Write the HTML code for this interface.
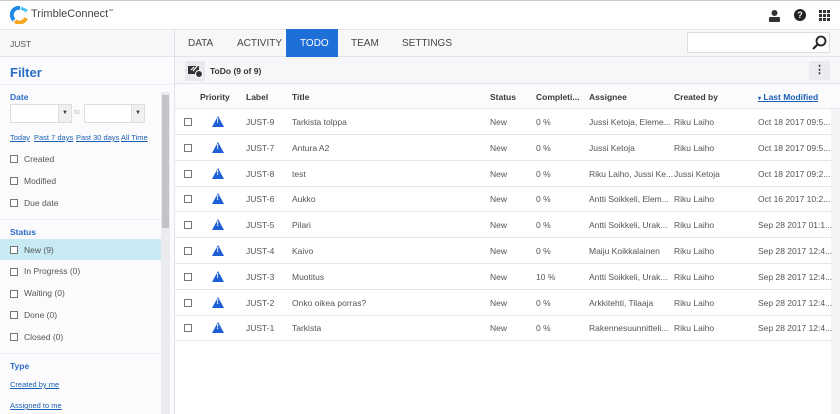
<!DOCTYPE html>
<html><head><style>
*{box-sizing:border-box;margin:0;padding:0}
body{width:840px;height:414px;overflow:hidden;background:#fff;font-family:"Liberation Sans",sans-serif;font-size:8.5px;color:#3a3a3a;position:relative}
.a{position:absolute;white-space:nowrap}
.cb{position:absolute;width:8px;height:8px;border:1px solid #777;background:#fff}
.lnk{color:#1a5fb4;text-decoration:underline}
.tri{position:absolute;width:0;height:0;border-left:6px solid transparent;border-right:6px solid transparent;border-bottom:11px solid #1f5fd6}
.tri:after{content:"!";position:absolute;left:-1.5px;top:2px;color:#fff;font-size:7px;font-weight:bold}
</style></head><body>
<div class="a" style="left:0;top:0;width:840px;height:1px;background:#ccc"></div>
<svg class="a" style="left:10px;top:6px" width="22" height="18" viewBox="0 0 22 18"><path d="M10 2 A7 7 0 0 0 4 14" stroke="#1e88e5" stroke-width="4" fill="none"/><path d="M5 15 A7 7 0 0 0 16 12" stroke="#f5a623" stroke-width="4" fill="none"/><path d="M11 2 L17 5" stroke="#4fc3f7" stroke-width="3"/></svg>
<div class="a" style="left:31px;top:8px;font-size:11px;color:#444">TrimbleConnect<sup style="font-size:5px">™</sup></div>
<svg class="a" style="left:768px;top:9px" width="13" height="13" viewBox="0 0 13 13"><circle cx="6.5" cy="4" r="3" fill="#333"/><rect x="1" y="8" width="11" height="5" rx="1" fill="#333"/></svg>
<div class="a" style="left:794px;top:9px;width:12px;height:12px;border-radius:6px;background:#222;color:#fff;font-size:9px;font-weight:bold;text-align:center;line-height:12px">?</div>
<svg class="a" style="left:819px;top:10px" width="11" height="11"><g fill="#333"><rect x="0" y="0" width="3" height="3"/><rect x="4" y="0" width="3" height="3"/><rect x="8" y="0" width="3" height="3"/><rect x="0" y="4" width="3" height="3"/><rect x="4" y="4" width="3" height="3"/><rect x="8" y="4" width="3" height="3"/><rect x="0" y="8" width="3" height="3"/><rect x="4" y="8" width="3" height="3"/><rect x="8" y="8" width="3" height="3"/></g></svg>
<div class="a" style="left:0;top:29px;width:840px;height:28px;background:#f7f7fa;border-top:1px solid #e4e4ea;border-bottom:1px solid #e4e4ea"></div>
<div class="a" style="left:10px;top:39px;color:#555">JUST</div>
<div class="a" style="left:174px;top:29px;width:1px;height:385px;background:#e2e2e8"></div>
<div class="a" style="left:188px;top:38px;font-size:10px;color:#444">DATA</div>
<div class="a" style="left:237px;top:38px;font-size:10px;color:#444">ACTIVITY</div>
<div class="a" style="left:286px;top:29px;width:52px;height:28px;background:#1f6fd8"></div>
<div class="a" style="left:300px;top:38px;font-size:10px;color:#fff">TODO</div>
<div class="a" style="left:351px;top:38px;font-size:10px;color:#444">TEAM</div>
<div class="a" style="left:402px;top:38px;font-size:10px;color:#444">SETTINGS</div>
<div class="a" style="left:687px;top:32px;width:143px;height:21px;background:#fff;border:1px solid #ddd"></div>
<svg class="a" style="left:812px;top:35px" width="15" height="15"><circle cx="9" cy="6" r="4.5" stroke="#222" stroke-width="1.8" fill="none"/><line x1="6" y1="9" x2="1" y2="14" stroke="#222" stroke-width="2"/></svg>
<div class="a" style="left:0;top:57px;width:174px;height:357px;background:#fbfbfd"></div>
<div class="a" style="left:0;top:84px;width:174px;height:1px;background:#ececf0"></div>
<div class="a" style="left:10px;top:65px;font-size:13px;font-weight:bold;color:#2a6cc6">Filter</div>
<div class="a" style="left:161px;top:92px;width:9px;height:322px;background:#ececf0"></div>
<div class="a" style="left:162px;top:95px;width:7px;height:133px;background:#c2c2c8"></div>
<div class="a" style="left:10px;top:92px;color:#2a6cc6;font-weight:bold">Date</div>
<div class="a" style="left:10px;top:104px;width:62px;height:19px;background:#fff;border:1px solid #ddd"></div>
<div class="a" style="left:58px;top:104px;width:14px;height:19px;background:#f0f0f2;border:1px solid #ddd;font-size:6px;text-align:center;line-height:17px">▼</div>
<div class="a" style="left:74px;top:109px;color:#bbb;font-size:7px">to</div>
<div class="a" style="left:84px;top:104px;width:61px;height:19px;background:#fff;border:1px solid #ddd"></div>
<div class="a" style="left:131px;top:104px;width:14px;height:19px;background:#f0f0f2;border:1px solid #ddd;font-size:6px;text-align:center;line-height:17px">▼</div>
<div class="a lnk" style="left:10px;top:133px;font-size:7.5px">Today</div>
<div class="a lnk" style="left:34px;top:133px;font-size:7.5px">Past 7 days</div>
<div class="a lnk" style="left:76px;top:133px;font-size:7.5px">Past 30 days</div>
<div class="a lnk" style="left:121px;top:133px;font-size:7.5px">All Time</div>
<div class="cb" style="left:10px;top:155px"></div><div class="a" style="left:24px;top:154px;color:#555">Created</div>
<div class="cb" style="left:10px;top:177px"></div><div class="a" style="left:24px;top:176px;color:#555">Modified</div>
<div class="cb" style="left:10px;top:199px"></div><div class="a" style="left:24px;top:198px;color:#555">Due date</div>
<div class="a" style="left:0;top:219px;width:161px;height:1px;background:#ececf0"></div>
<div class="a" style="left:10px;top:227px;color:#2a6cc6;font-weight:bold">Status</div>
<div class="a" style="left:0;top:239px;width:161px;height:21px;background:#c7eaf3"></div>
<div class="cb" style="left:10px;top:246px"></div><div class="a" style="left:24px;top:245px;color:#555">New (9)</div>
<div class="cb" style="left:10px;top:268px"></div><div class="a" style="left:24px;top:266px;color:#555">In Progress (0)</div>
<div class="cb" style="left:10px;top:290px"></div><div class="a" style="left:24px;top:288px;color:#555">Waiting (0)</div>
<div class="cb" style="left:10px;top:311px"></div><div class="a" style="left:24px;top:310px;color:#555">Done (0)</div>
<div class="cb" style="left:10px;top:333px"></div><div class="a" style="left:24px;top:332px;color:#555">Closed (0)</div>
<div class="a" style="left:0;top:353px;width:161px;height:1px;background:#ececf0"></div>
<div class="a" style="left:10px;top:361px;color:#2a6cc6;font-weight:bold">Type</div>
<div class="a lnk" style="left:10px;top:380px;font-size:7.5px">Created by me</div>
<div class="a lnk" style="left:10px;top:401px;font-size:7.5px">Assigned to me</div>
<div class="a" style="left:175px;top:57px;width:665px;height:27px;background:#f7f7fa;border-bottom:1px solid #e4e4ea"></div>
<div class="a" style="left:185px;top:61px;width:20px;height:20px;background:#e8e8ee"></div>
<svg class="a" style="left:187px;top:63px" width="16" height="16"><rect x="1" y="3" width="11" height="8" fill="#333"/><circle cx="12" cy="11" r="3.5" fill="#333" stroke="#fff"/><path d="M4 7 L7 4 M6 8 L11 2" stroke="#fff" stroke-width="1.2"/></svg>
<div class="a" style="left:210px;top:66px;font-weight:bold;color:#333">ToDo (9 of 9)</div>
<div class="a" style="left:809px;top:61px;width:21px;height:19px;background:#ebebf0;text-align:center;font-weight:bold;font-size:11px;line-height:18px">⋮</div>
<div class="a" style="left:175px;top:84px;width:665px;height:25px;background:#fbfbfd;border-bottom:1px solid #e4e4ea"></div>
<div class="a" style="left:200px;top:92px;font-weight:bold">Priority</div>
<div class="a" style="left:246px;top:92px;font-weight:bold">Label</div>
<div class="a" style="left:292px;top:92px;font-weight:bold">Title</div>
<div class="a" style="left:490px;top:92px;font-weight:bold">Status</div>
<div class="a" style="left:536px;top:92px;font-weight:bold">Completi...</div>
<div class="a" style="left:589px;top:92px;font-weight:bold">Assignee</div>
<div class="a" style="left:674px;top:92px;font-weight:bold">Created by</div>
<div class="a lnk" style="left:758px;top:92px;font-weight:bold"><span style="font-size:6px">▾</span> Last Modified</div>
<div class="a" style="left:831px;top:109px;width:9px;height:305px;background:#f4f4f7"></div>
<div id="rows"></div>
<script>
var d=[["JUST-9","Tarkista tolppa","0 %","Jussi Ketoja, Eleme...","Riku Laiho","Oct 18 2017 09:5..."],
["JUST-7","Antura A2","0 %","Jussi Ketoja","Riku Laiho","Oct 18 2017 09:5..."],
["JUST-8","test","0 %","Riku Laiho, Jussi Ke...","Jussi Ketoja","Oct 18 2017 09:2..."],
["JUST-6","Aukko","0 %","Antti Soikkeli, Elem...","Riku Laiho","Oct 16 2017 10:2..."],
["JUST-5","Pilari","0 %","Antti Soikkeli, Urak...","Riku Laiho","Sep 28 2017 01:1..."],
["JUST-4","Kaivo","0 %","Maiju Koikkalainen","Riku Laiho","Sep 28 2017 12:4..."],
["JUST-3","Muotitus","10 %","Antti Soikkeli, Urak...","Riku Laiho","Sep 28 2017 12:4..."],
["JUST-2","Onko oikea porras?","0 %","Arkkitehti, Tilaaja","Riku Laiho","Sep 28 2017 12:4..."],
["JUST-1","Tarkista","0 %","Rakennesuunnitteli...","Riku Laiho","Sep 28 2017 12:4..."]];
var h="";
d.forEach(function(r,i){var y=109+i*25.8;var t=y+8;
h+='<div class="a" style="left:175px;top:'+(y+25)+'px;width:656px;height:1px;background:#e4e4ea"></div>';
h+='<div class="cb" style="left:184px;top:'+(y+9)+'px"></div>';
h+='<div class="tri" style="left:212px;top:'+(y+7)+'px"></div>';
var xs=[246,292,536,589,674,758];
for(var k=0;k<6;k++)h+='<div class="a" style="left:'+xs[k]+'px;top:'+t+'px;color:#555">'+r[k]+'</div>';
h+='<div class="a" style="left:490px;top:'+t+'px;color:#555">New</div>';});
document.getElementById("rows").innerHTML=h;
</script>
</body></html>
